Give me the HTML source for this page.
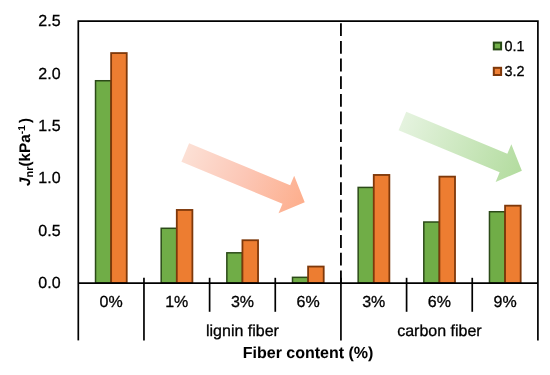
<!DOCTYPE html>
<html><head><meta charset="utf-8"><style>
html,body{margin:0;padding:0;background:#fff;}
body{width:550px;height:375px;overflow:hidden;}
svg{display:block;}
text{font-family:"Liberation Sans",Arial,sans-serif;fill:#000;text-rendering:geometricPrecision;stroke:#000;stroke-width:0.3px;}
text.b{stroke-width:0.05px;}
</style></head><body>
<svg width="550" height="375" viewBox="0 0 550 375">
<defs>
<linearGradient id="go" gradientUnits="userSpaceOnUse" x1="0" y1="0" x2="129.6" y2="0">
<stop offset="0" stop-color="#fce0d5"/><stop offset="0.49" stop-color="#fcc7b6"/><stop offset="1" stop-color="#fdae8c"/></linearGradient>
<linearGradient id="gg" gradientUnits="userSpaceOnUse" x1="0" y1="0" x2="129.6" y2="0">
<stop offset="0" stop-color="#e5f3df"/><stop offset="1" stop-color="#b3dc9f"/></linearGradient>
</defs>
<rect width="550" height="375" fill="#fff"/>

<g transform="translate(185.25,152.45) rotate(22.6)"><polygon points="0,-10 109.5,-10 109.5,-20.4 129.4,0 109.5,20.4 109.5,10 0,10" fill="url(#go)"/></g>
<g transform="translate(402.4,121.0) rotate(22.6)"><polygon points="0,-10 109.5,-10 109.5,-20.4 129.4,0 109.5,20.4 109.5,10 0,10" fill="url(#gg)"/></g>
<rect x="95.53" y="80.74" width="15.60" height="202.26" fill="#70ad47" stroke="#2b4a18" stroke-width="1.5"/>
<rect x="111.13" y="53.07" width="15.60" height="229.93" fill="#ed7d31" stroke="#7e380a" stroke-width="1.8"/>
<rect x="161.19" y="228.29" width="15.60" height="54.71" fill="#70ad47" stroke="#2b4a18" stroke-width="1.5"/>
<rect x="176.79" y="209.95" width="15.60" height="73.05" fill="#ed7d31" stroke="#7e380a" stroke-width="1.8"/>
<rect x="226.84" y="252.82" width="15.60" height="30.18" fill="#70ad47" stroke="#2b4a18" stroke-width="1.5"/>
<rect x="242.44" y="240.24" width="15.60" height="42.76" fill="#ed7d31" stroke="#7e380a" stroke-width="1.8"/>
<rect x="292.50" y="277.34" width="15.60" height="5.66" fill="#70ad47" stroke="#2b4a18" stroke-width="1.5"/>
<rect x="308.10" y="266.55" width="15.60" height="16.45" fill="#ed7d31" stroke="#7e380a" stroke-width="1.8"/>
<rect x="358.16" y="187.42" width="15.60" height="95.58" fill="#70ad47" stroke="#2b4a18" stroke-width="1.5"/>
<rect x="373.76" y="174.95" width="15.60" height="108.05" fill="#ed7d31" stroke="#7e380a" stroke-width="1.8"/>
<rect x="423.81" y="222.01" width="15.60" height="60.99" fill="#70ad47" stroke="#2b4a18" stroke-width="1.5"/>
<rect x="439.41" y="176.63" width="15.60" height="106.37" fill="#ed7d31" stroke="#7e380a" stroke-width="1.8"/>
<rect x="489.47" y="211.74" width="15.60" height="71.26" fill="#70ad47" stroke="#2b4a18" stroke-width="1.5"/>
<rect x="505.07" y="205.66" width="15.60" height="77.34" fill="#ed7d31" stroke="#7e380a" stroke-width="1.8"/>
<line x1="340.93" y1="23.3" x2="340.93" y2="283.0" stroke="#000" stroke-width="1.8" stroke-dasharray="12.8 4.85"/>
<path d="M78.3,283.0 L78.3,21.15 L537.9,21.15 L537.9,283.0" fill="none" stroke="#000" stroke-width="1.7"/>
<line x1="78.3" y1="283.0" x2="537.9" y2="283.0" stroke="#000" stroke-width="1.75"/>
<line x1="78.30" y1="283.0" x2="78.30" y2="340.4" stroke="#000" stroke-width="1.7"/>
<line x1="143.96" y1="277.8" x2="143.96" y2="340.4" stroke="#000" stroke-width="1.7"/>
<line x1="209.61" y1="277.8" x2="209.61" y2="311.8" stroke="#000" stroke-width="1.7"/>
<line x1="275.27" y1="277.8" x2="275.27" y2="311.8" stroke="#000" stroke-width="1.7"/>
<line x1="340.93" y1="277.8" x2="340.93" y2="340.4" stroke="#000" stroke-width="1.7"/>
<line x1="406.59" y1="277.8" x2="406.59" y2="311.8" stroke="#000" stroke-width="1.7"/>
<line x1="472.24" y1="277.8" x2="472.24" y2="311.8" stroke="#000" stroke-width="1.7"/>
<line x1="537.90" y1="283.0" x2="537.90" y2="340.4" stroke="#000" stroke-width="1.7"/>
<text x="60.6" y="288.13" font-size="16" text-anchor="end">0.0</text>
<text x="60.6" y="235.73" font-size="16" text-anchor="end">0.5</text>
<text x="60.6" y="183.33" font-size="16" text-anchor="end">1.0</text>
<text x="60.6" y="130.93" font-size="16" text-anchor="end">1.5</text>
<text x="60.6" y="78.53" font-size="16" text-anchor="end">2.0</text>
<text x="60.6" y="26.13" font-size="16" text-anchor="end">2.5</text>
<text x="111.13" y="307.3" font-size="16" text-anchor="middle">0%</text>
<text x="176.79" y="307.3" font-size="16" text-anchor="middle">1%</text>
<text x="242.44" y="307.3" font-size="16" text-anchor="middle">3%</text>
<text x="308.10" y="307.3" font-size="16" text-anchor="middle">6%</text>
<text x="373.76" y="307.3" font-size="16" text-anchor="middle">3%</text>
<text x="439.41" y="307.3" font-size="16" text-anchor="middle">6%</text>
<text x="505.07" y="307.3" font-size="16" text-anchor="middle">9%</text>
<text x="242.44" y="335.7" font-size="16" text-anchor="middle">lignin fiber</text>
<text x="439.41" y="335.7" font-size="16" text-anchor="middle">carbon fiber</text>
<text x="308.10" y="357.6" class="b" font-size="16" font-weight="bold" text-anchor="middle">Fiber content (%)</text>
<text transform="translate(29.6,186.0) rotate(-90)" class="b" font-size="15.3" font-weight="bold"><tspan font-style="italic">J</tspan><tspan font-size="11" dy="3.6">nr</tspan><tspan dy="-3.6">(kPa</tspan><tspan font-size="10" dy="-5">-1</tspan><tspan dx="2.2" dy="5">)</tspan></text>
<rect x="493.8" y="42.6" width="7.3" height="6.8" fill="#72b048" stroke="#284a16" stroke-width="2"/>
<text x="504.6" y="50.7" font-size="14.4">0.1</text>
<rect x="493.8" y="67.8" width="7.3" height="7.2" fill="#ef8035" stroke="#7e380a" stroke-width="2"/>
<text x="504.6" y="76.0" font-size="14.4">3.2</text>
</svg></body></html>
